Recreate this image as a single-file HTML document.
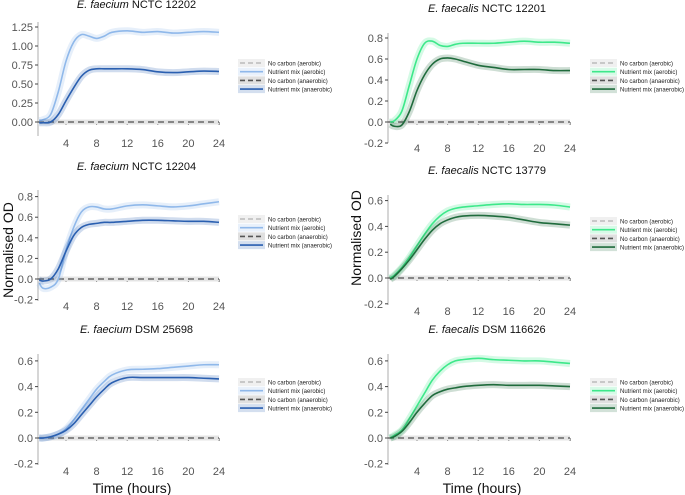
<!DOCTYPE html>
<html><head><meta charset="utf-8">
<style>
body{margin:0;background:#fff;}
svg{display:block;font-family:"Liberation Sans",sans-serif;}
</style></head>
<body>
<svg id="chart" width="685" height="495" viewBox="0 0 685 495"></svg>
<script>
const hours=[0.5,1,2,3,4,5,6,7,8,9,10,12,14,16,18,20,22,24];
const xTicks=[4,8,12,16,20,24];
const titlesSpecies=["E. faecium","E. faecalis","E. faecium","E. faecalis","E. faecium","E. faecalis"];
const titlesStrain=["NCTC 12202","NCTC 12201","NCTC 12204","NCTC 13779","DSM 25698","DSM 116626"];
const yTicks1=[0,0.25,0.5,0.75,1.0,1.25];
const yTicks2=[-0.2,0,0.2,0.4,0.6,0.8];
const yTicks3=[-0.2,0,0.2,0.4,0.6,0.8];
const yTicks4=[-0.2,0,0.2,0.4,0.6];
const yTicks5=[-0.2,0,0.2,0.4,0.6];
const yTicks6=[-0.2,0,0.2,0.4,0.6];
const aer1=[0.02,0.03,0.1,0.4,0.8,1.05,1.15,1.13,1.1,1.13,1.18,1.2,1.18,1.19,1.17,1.18,1.19,1.18];
const ana1=[-0.01,-0.01,0.0,0.1,0.28,0.45,0.6,0.68,0.7,0.7,0.7,0.7,0.69,0.66,0.65,0.66,0.67,0.665];
const aer2=[0.0,0.01,0.1,0.35,0.6,0.75,0.77,0.73,0.72,0.74,0.75,0.75,0.75,0.76,0.77,0.76,0.76,0.75];
const ana2=[-0.02,-0.04,-0.03,0.1,0.3,0.45,0.55,0.6,0.61,0.6,0.58,0.54,0.52,0.5,0.5,0.5,0.49,0.49];
const aer3=[-0.04,-0.09,-0.08,0.0,0.28,0.5,0.65,0.7,0.7,0.68,0.68,0.71,0.72,0.71,0.7,0.71,0.73,0.75];
const ana3=[-0.01,-0.02,0.0,0.1,0.27,0.42,0.5,0.53,0.54,0.55,0.55,0.56,0.57,0.57,0.565,0.56,0.56,0.55];
const aer4=[0.0,0.02,0.08,0.16,0.25,0.34,0.42,0.48,0.52,0.54,0.55,0.56,0.57,0.575,0.57,0.57,0.565,0.55];
const ana4=[-0.01,0.01,0.07,0.14,0.22,0.3,0.37,0.42,0.45,0.47,0.48,0.485,0.48,0.47,0.45,0.43,0.42,0.41];
const aer5=[0.0,0.0,0.01,0.03,0.07,0.14,0.22,0.3,0.38,0.44,0.49,0.53,0.535,0.54,0.55,0.56,0.57,0.57];
const ana5=[0.0,0.0,0.01,0.03,0.06,0.11,0.18,0.25,0.32,0.38,0.43,0.47,0.47,0.47,0.47,0.47,0.465,0.46];
const aer6=[0.0,0.02,0.06,0.15,0.25,0.35,0.45,0.52,0.57,0.6,0.61,0.62,0.61,0.605,0.6,0.6,0.59,0.58];
const ana6=[0.0,0.01,0.05,0.12,0.2,0.27,0.33,0.36,0.38,0.39,0.4,0.41,0.415,0.41,0.41,0.41,0.405,0.4];

const NS="http://www.w3.org/2000/svg";
const svg=document.getElementById('chart');
function el(tag,attrs,parent,text){const e=document.createElementNS(NS,tag);for(const k in attrs)e.setAttribute(k,attrs[k]);if(text!==undefined)e.textContent=text;(parent||svg).appendChild(e);return e;}

const panels=[
 {ax:38,x0:35.4,y0:122,ys:76,top:22,bot:136,titleY:8,tickY:147,legY:63,legX:238,yt:yTicks1,aer:aer1,ana:ana1,fmt:2,cA:"#8fb8ea",cN:"#2a5fb0"},
 {ax:388,x0:386.4,y0:122,ys:105,top:33,bot:143,titleY:12,tickY:152,legY:63,legX:590,yt:yTicks2,aer:aer2,ana:ana2,fmt:1,cA:"#3de88a",cN:"#1f6b3c"},
 {ax:38,x0:35.4,y0:279,ys:103,top:190,bot:301,titleY:170,tickY:310,legY:219,legX:238,yt:yTicks3,aer:aer3,ana:ana3,fmt:1,cA:"#8fb8ea",cN:"#2a5fb0"},
 {ax:388,x0:386.4,y0:278,ys:129,top:195,bot:305,titleY:174,tickY:315,legY:221,legX:590,yt:yTicks4,aer:aer4,ana:ana4,fmt:1,cA:"#3de88a",cN:"#1f6b3c"},
 {ax:38,x0:35.4,y0:438,ys:128.5,top:354,bot:465,titleY:333,tickY:475,legY:382,legX:238,yt:yTicks5,aer:aer5,ana:ana5,fmt:1,cA:"#8fb8ea",cN:"#2a5fb0"},
 {ax:388,x0:386.4,y0:438,ys:128.5,top:354,bot:465,titleY:333,tickY:475,legY:382,legX:590,yt:yTicks6,aer:aer6,ana:ana6,fmt:1,cA:"#3de88a",cN:"#1f6b3c"}
];
const pxH=7.65;
function smooth(pts){let d=`M${pts[0][0]},${pts[0][1]}`;for(let i=0;i<pts.length-1;i++){const p0=pts[Math.max(0,i-1)],p1=pts[i],p2=pts[i+1],p3=pts[Math.min(pts.length-1,i+2)];d+=` C${p1[0]+(p2[0]-p0[0])/6},${p1[1]+(p2[1]-p0[1])/6} ${p2[0]-(p3[0]-p1[0])/6},${p2[1]-(p3[1]-p1[1])/6} ${p2[0]},${p2[1]}`;}return d;}

panels.forEach((p,i)=>{
 const g=el('g',{});
 
 
 const X=t=>p.x0+t*pxH, Y=v=>p.y0-v*p.ys;
 const cx=(p.ax+X(24))/2+8;
 const t=el('text',{x:cx,y:p.titleY,'text-anchor':'middle','font-size':11,fill:'#111'},g);
 
 
 el('tspan',{'font-style':'italic'},t,titlesSpecies[i]);
 el('tspan',{},t,' '+titlesStrain[i]);
 const ya=el('line',{x1:p.ax,x2:p.ax,y1:p.top,y2:p.bot,stroke:'#d6d6d6','stroke-width':2},g);
 
 
 p.yt.forEach(v=>{
  el('line',{x1:p.ax-3,x2:p.ax,y1:Y(v),y2:Y(v),stroke:'#444','stroke-width':1},g);
  const l=el('text',{x:p.ax-5,y:Y(v)+4,'text-anchor':'end','font-size':11,fill:'#555'},g,v.toFixed(p.fmt));
  
  
 });
 xTicks.forEach(v=>{
  el('line',{x1:X(v),x2:X(v),y1:p.y0,y2:p.y0+3,stroke:'#444','stroke-width':1},g);
  const l=el('text',{x:X(v),y:p.tickY,'text-anchor':'middle','font-size':11,fill:'#555'},g,v);
  
  
 });
 const z1=el('line',{x1:p.ax,x2:X(24),y1:p.y0,y2:p.y0,stroke:'#e4e4e4','stroke-width':5},g);
 
 
 const z2=el('line',{x1:p.ax,x2:X(24),y1:p.y0,y2:p.y0,stroke:'#666','stroke-width':1.6,'stroke-dasharray':'6,4'},g);
 
 
 [[p.aer,p.cA,'aerobic'],[p.ana,p.cN,'anaerobic']].forEach(([vals,c,nm])=>{
  const pts=hours.map((h,k)=>[X(h),Y(vals[k])]);
  const d=smooth(pts);
  const b=el('path',{d:d,fill:'none',stroke:c,'stroke-opacity':0.22,'stroke-width':7,'stroke-linejoin':'round'},g);
  
  
  const l=el('path',{d:d,fill:'none',stroke:c,'stroke-width':1.6},g);
  
  
 });
 const legs=[["No carbon (aerobic)","#bbb",true,"#f0f0f0"],["Nutrient mix (aerobic)",p.cA,false,p.cA+"33"],["No carbon (anaerobic)","#555",true,"#e0e0e0"],["Nutrient mix (anaerobic)",p.cN,false,p.cN+"33"]];
 const lg=el('g',{},g);
 
 
 legs.forEach((L,k)=>{
  const y=p.legY+k*8.7;
  const e=el('g',{},lg);
  
  
  el('rect',{x:p.legX,y:y-4,width:27,height:8,fill:L[3]},e);
  el('line',{x1:p.legX+2,x2:p.legX+25,y1:y,y2:y,stroke:L[1],'stroke-width':1.6,'stroke-dasharray':L[2]?'5,3':'none'},e);
  el('text',{x:p.legX+30,y:y+2.5,'font-size':6,fill:'#222'},e,L[0]);
 });
});
const yl1=el('text',{x:0,y:0,transform:'translate(13,250) rotate(-90)','text-anchor':'middle','font-size':14,fill:'#111'},svg,'Normalised OD');


const yl2=el('text',{x:0,y:0,transform:'translate(361,238) rotate(-90)','text-anchor':'middle','font-size':14,fill:'#111'},svg,'Normalised OD');


const xl1=el('text',{x:132,y:493,'text-anchor':'middle','font-size':14,fill:'#111'},svg,'Time (hours)');


const xl2=el('text',{x:482,y:493,'text-anchor':'middle','font-size':14,fill:'#111'},svg,'Time (hours)');


</script>
</body></html>
